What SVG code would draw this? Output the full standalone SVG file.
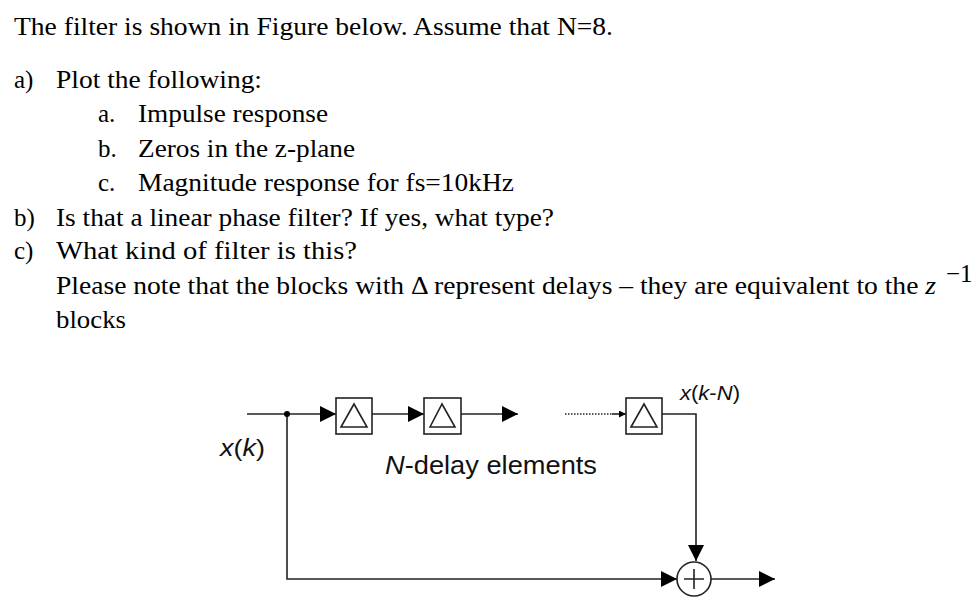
<svg xmlns="http://www.w3.org/2000/svg" width="980" height="614" viewBox="0 0 980 614">
<style>
.t{font-family:"Liberation Serif",serif;font-size:25px;fill:#000}
.s{font-family:"Liberation Sans",sans-serif;fill:#111}
.l{stroke:#222;stroke-width:1.6;fill:none}
.b{stroke:#222;stroke-width:1.6;fill:#fff}
</style>
<defs><marker id="a" viewBox="0 0 10 10" refX="10" refY="5" markerWidth="7" markerHeight="7" markerUnits="userSpaceOnUse" orient="auto"><path d="M0,0L10,5L0,10z" fill="#000"/></marker>
<marker id="A" viewBox="0 0 10 10" refX="10" refY="5" markerWidth="16" markerHeight="16" markerUnits="userSpaceOnUse" orient="auto"><path d="M0,0L10,5L0,10z" fill="#000"/></marker></defs>
<rect width="980" height="614" fill="#fff"/>
<text class="t" x="14" y="35" textLength="599" lengthAdjust="spacingAndGlyphs">The filter is shown in Figure below. Assume that N=8.</text>
<text class="t" x="14" y="88">a)</text>
<text class="t" x="56" y="88" textLength="206" lengthAdjust="spacingAndGlyphs">Plot the following:</text>
<text class="t" x="98" y="122">a.</text>
<text class="t" x="138" y="122" textLength="190" lengthAdjust="spacingAndGlyphs">Impulse response</text>
<text class="t" x="98" y="157">b.</text>
<text class="t" x="138" y="157" textLength="217" lengthAdjust="spacingAndGlyphs">Zeros in the z-plane</text>
<text class="t" x="98" y="191">c.</text>
<text class="t" x="138" y="191" textLength="376" lengthAdjust="spacingAndGlyphs">Magnitude response for fs=10kHz</text>
<text class="t" x="14" y="226">b)</text>
<text class="t" x="56" y="226" textLength="498" lengthAdjust="spacingAndGlyphs">Is that a linear phase filter? If yes, what type?</text>
<text class="t" x="14" y="259">c)</text>
<text class="t" x="56" y="259" textLength="301" lengthAdjust="spacingAndGlyphs">What kind of filter is this?</text>
<text class="t" x="56" y="294" textLength="880" lengthAdjust="spacingAndGlyphs">Please note that the blocks with Δ  represent delays – they are equivalent to the <tspan font-style="italic">z</tspan></text>
<text class="t" x="946" y="282" font-size="17">−1</text>
<text class="t" x="56" y="328" textLength="70" lengthAdjust="spacingAndGlyphs">blocks</text>
<g id="connectors">
<path class="l" d="M247,414H336" marker-end="url(#A)"/>
<path class="l" d="M372,414H424" marker-end="url(#A)"/>
<path class="l" d="M461,414H518" marker-end="url(#A)"/>
<path class="l" d="M565,414H612" stroke-dasharray="1.5,1.5" stroke-width="1.2"/>
<path class="l" d="M612,414H626" stroke-width="1.2" marker-end="url(#a)"/>
<path class="l" d="M662,414H696V561" marker-end="url(#A)"/>
<path class="l" d="M287,414V579H677" marker-end="url(#A)"/>
<path class="l" d="M711,579H775" marker-end="url(#A)"/>
<circle cx="287" cy="414" r="3" fill="#000"/>
</g>
<g id="d1"><rect class="b" x="336" y="398" width="36" height="36"/><path class="l" d="M341,427L354,404L367,427Z"/></g>
<g id="d2"><rect class="b" x="424" y="398" width="37" height="36"/><path class="l" d="M430,427L442,404L455,427Z"/></g>
<g id="d3"><rect class="b" x="626" y="398" width="36" height="36"/><path class="l" d="M631,427L644,404L657,427Z"/></g>
<g id="sum"><circle class="b" cx="694" cy="579" r="17"/><path class="l" d="M684,579H704M694,569V589"/></g>
<text class="s" x="680" y="400" font-size="20" textLength="60" lengthAdjust="spacingAndGlyphs"><tspan font-style="italic">x</tspan>(<tspan font-style="italic">k</tspan>-<tspan font-style="italic">N</tspan>)</text>
<text class="s" x="220" y="456" font-size="24" textLength="45" lengthAdjust="spacingAndGlyphs"><tspan font-style="italic">x</tspan>(<tspan font-style="italic">k</tspan>)</text>
<text class="s" x="385" y="474" font-size="26" textLength="212" lengthAdjust="spacingAndGlyphs"><tspan font-style="italic">N</tspan>-delay elements</text>
</svg>
